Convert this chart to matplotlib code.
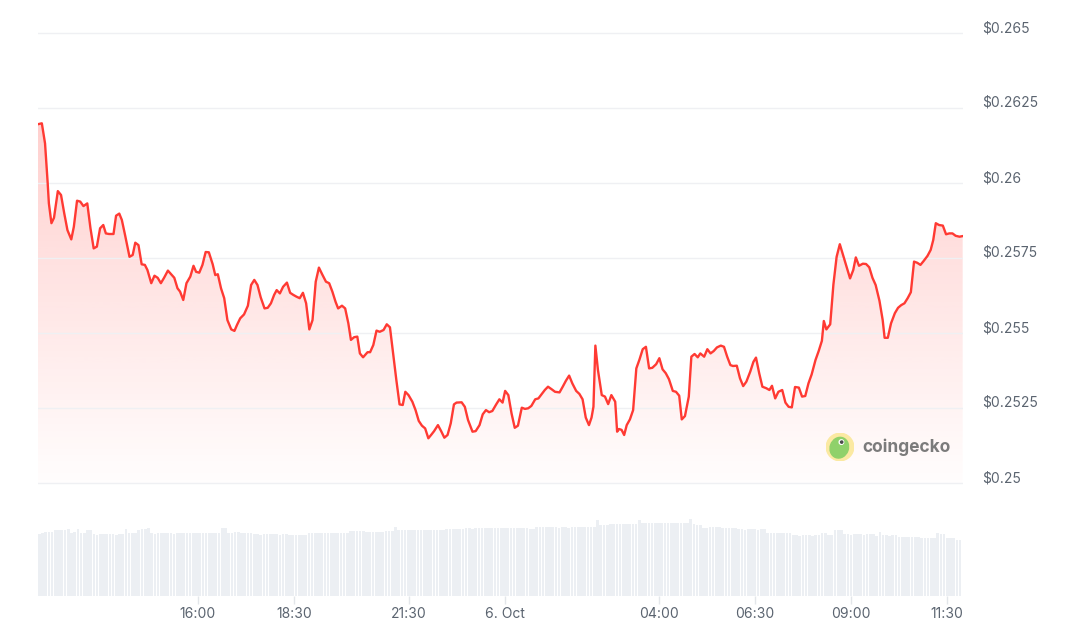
import numpy as np
import pandas as pd
import matplotlib
matplotlib.use("Agg")
import matplotlib.pyplot as plt
import matplotlib.dates as mdates
from matplotlib.patches import Circle, Ellipse
from matplotlib.transforms import ScaledTranslation

# price samples: minutes after 11:50 (5 Oct) and USD price
minutes = [0, 6, 11, 15, 17, 21, 25, 31, 36, 41, 46, 52, 56, 61, 66, 71, 77, 82, 87, 92,
           97, 102, 106, 111, 118, 122, 127, 131, 136, 143, 148, 152, 157, 162, 167, 171, 177, 182, 187, 192,
           197, 203, 208, 213, 218, 222, 227, 232, 238, 243, 247, 252, 257, 262, 267, 273, 277, 281, 286, 291,
           296, 302, 307, 311, 316, 322, 328, 333, 338, 343, 348, 354, 359, 364, 369, 373, 378, 383, 389, 394,
           399, 404, 409, 414, 419, 424, 429, 434, 439, 444, 450, 455, 460, 465, 469, 475, 480, 485, 489, 494,
           499, 503, 508, 515, 519, 524, 529, 534, 540, 545, 550, 555, 560, 565, 570, 574, 579, 585, 590, 595,
           600, 605, 610, 615, 619, 625, 630, 635, 640, 645, 650, 654, 662, 667, 672, 679, 684, 690, 695, 700,
           705, 710, 716, 721, 726, 730, 735, 740, 745, 750, 756, 761, 766, 771, 777, 782, 787, 792, 797, 803,
           808, 815, 820, 825, 830, 835, 841, 846, 851, 856, 861, 865, 868, 871, 875, 881, 886, 891, 896, 902,
           905, 908, 912, 916, 920, 925, 930, 935, 940, 945, 950, 955, 960, 966, 971, 976, 981, 986, 992, 997,
           1002, 1006, 1011, 1017, 1021, 1026, 1031, 1035, 1041, 1046, 1051, 1056, 1061, 1067, 1072, 1077, 1082, 1086, 1092, 1097,
           1102, 1107, 1113, 1118, 1122, 1127, 1132, 1138, 1143, 1147, 1152, 1157, 1163, 1168, 1173, 1178, 1183, 1189, 1194, 1199,
           1204, 1209, 1215, 1220, 1225, 1228, 1232, 1238, 1243, 1248, 1253, 1258, 1264, 1269, 1274, 1278, 1283, 1289, 1294, 1299,
           1304, 1309, 1315, 1320, 1323, 1328, 1333, 1339, 1344, 1349, 1354, 1359, 1364, 1369, 1374, 1379, 1384, 1390, 1395, 1399,
           1403, 1408, 1414, 1419, 1424, 1429, 1434, 1440, 1445]
prices = [0.26196, 0.26199, 0.26132, 0.26004, 0.25932, 0.25866, 0.25884, 0.25973, 0.25960, 0.25899,
          0.25843, 0.25812, 0.25854, 0.25941, 0.25938, 0.25923, 0.25932, 0.25849, 0.25782, 0.25788,
          0.25849, 0.25860, 0.25832, 0.25830, 0.25830, 0.25891, 0.25898, 0.25877, 0.25827, 0.25754,
          0.25760, 0.25801, 0.25793, 0.25729, 0.25727, 0.25710, 0.25666, 0.25691, 0.25684, 0.25666,
          0.25684, 0.25708, 0.25696, 0.25684, 0.25649, 0.25638, 0.25610, 0.25666, 0.25688, 0.25724,
          0.25704, 0.25701, 0.25727, 0.25770, 0.25769, 0.25729, 0.25693, 0.25696, 0.25649, 0.25616,
          0.25543, 0.25512, 0.25507, 0.25527, 0.25549, 0.25562, 0.25591, 0.25660, 0.25677, 0.25660,
          0.25619, 0.25582, 0.25584, 0.25599, 0.25627, 0.25643, 0.25632, 0.25654, 0.25668, 0.25634,
          0.25627, 0.25621, 0.25616, 0.25634, 0.25599, 0.25512, 0.25543, 0.25671, 0.25718, 0.25696,
          0.25671, 0.25666, 0.25638, 0.25604, 0.25582, 0.25591, 0.25582, 0.25532, 0.25477, 0.25486,
          0.25488, 0.25432, 0.25419, 0.25436, 0.25436, 0.25460, 0.25508, 0.25504, 0.25510, 0.25529,
          0.25519, 0.25432, 0.25343, 0.25262, 0.25260, 0.25304, 0.25293, 0.25271, 0.25243, 0.25207,
          0.25191, 0.25182, 0.25149, 0.25162, 0.25173, 0.25193, 0.25173, 0.25151, 0.25160, 0.25199,
          0.25262, 0.25268, 0.25269, 0.25254, 0.25210, 0.25171, 0.25173, 0.25193, 0.25229, 0.25243,
          0.25236, 0.25240, 0.25262, 0.25279, 0.25268, 0.25307, 0.25293, 0.25232, 0.25184, 0.25191,
          0.25251, 0.25247, 0.25249, 0.25257, 0.25279, 0.25282, 0.25296, 0.25310, 0.25321, 0.25312,
          0.25304, 0.25302, 0.25321, 0.25341, 0.25358, 0.25332, 0.25307, 0.25297, 0.25279, 0.25218,
          0.25193, 0.25218, 0.25254, 0.25458, 0.25377, 0.25293, 0.25288, 0.25263, 0.25293, 0.25271,
          0.25171, 0.25180, 0.25177, 0.25160, 0.25193, 0.25212, 0.25243, 0.25382, 0.25412, 0.25446,
          0.25454, 0.25382, 0.25384, 0.25396, 0.25416, 0.25379, 0.25366, 0.25346, 0.25307, 0.25304,
          0.25291, 0.25212, 0.25223, 0.25288, 0.25421, 0.25430, 0.25419, 0.25432, 0.25421, 0.25446,
          0.25432, 0.25440, 0.25452, 0.25458, 0.25454, 0.25421, 0.25393, 0.25390, 0.25391, 0.25349,
          0.25323, 0.25338, 0.25371, 0.25404, 0.25418, 0.25366, 0.25321, 0.25316, 0.25310, 0.25324,
          0.25282, 0.25304, 0.25310, 0.25268, 0.25254, 0.25252, 0.25320, 0.25318, 0.25288, 0.25290,
          0.25332, 0.25362, 0.25410, 0.25440, 0.25474, 0.25540, 0.25512, 0.25529, 0.25662, 0.25754,
          0.25796, 0.25760, 0.25716, 0.25682, 0.25710, 0.25752, 0.25724, 0.25731, 0.25730, 0.25719,
          0.25684, 0.25660, 0.25607, 0.25543, 0.25484, 0.25484, 0.25532, 0.25566, 0.25584, 0.25593,
          0.25599, 0.25616, 0.25636, 0.25738, 0.25734, 0.25727, 0.25740, 0.25757, 0.25777, 0.25810,
          0.25866, 0.25860, 0.25858, 0.25829, 0.25832, 0.25832, 0.25824, 0.25821, 0.25823]

# 5-minute volume bars (relative units)
volume = [62.5, 63.3, 64.0, 64.3, 64.5, 65.7, 66.0, 66.3, 66.3, 66.7, 62.7, 64.0, 66.7, 62.7, 63.3, 65.7, 66.3,
          61.7, 61.5, 61.7, 61.7, 61.6, 61.7, 61.7, 61.5, 61.7, 62.0, 66.7, 62.7, 63.3, 63.3, 65.7, 66.7, 66.7, 67.7,
          62.7, 62.5, 62.7, 62.7, 62.6, 62.7, 62.7, 62.5, 62.7, 63.3, 63.0, 63.3, 63.3, 63.1, 63.3, 63.3,
          62.7, 62.7, 63.3, 62.7, 62.7, 63.3, 67.7, 68.3,
          62.7, 62.7, 64.0, 64.0, 63.3, 63.3, 63.3, 63.3, 61.7, 61.7, 61.5, 61.7, 61.7, 61.6, 61.7, 61.7,
          61.5, 61.7, 61.7, 61.4, 61.2, 61.0, 61.0, 60.8, 61.2, 62.7, 62.7, 63.0,
          63.3, 63.3, 63.5, 63.3, 63.3, 63.5, 63.3, 63.3, 63.5, 63.5, 65.0, 65.0, 65.0, 64.7, 65.0,
          64.0, 64.0, 64.2, 64.0, 64.3, 64.5, 65.0, 64.7, 65.0, 69.0, 65.7, 65.7, 66.0, 65.7, 65.7,
          66.3, 66.3, 66.5, 66.3, 66.3, 66.5, 66.3, 66.3, 66.5, 66.3, 67.0, 67.0, 67.2, 67.0, 67.0, 67.2,
          67.7, 67.7, 67.5, 67.7, 67.7, 67.7, 68.3, 68.3, 68.0, 68.3, 68.3, 68.3, 68.0, 68.3, 68.3, 68.5, 68.3, 68.3,
          68.3, 68.3, 67.3, 67.3, 69.3, 69.3, 69.5, 69.3, 69.3, 69.5, 69.3, 68.3, 69.3, 69.3, 68.3, 69.3, 69.3,
          69.3, 69.3, 69.5, 69.3, 69.3, 69.3, 75.7, 71.0, 71.0, 71.0,
          71.7, 71.7, 71.9, 71.7, 71.7, 71.9, 71.7, 71.7, 71.7, 75.7,
          73.3, 73.3, 73.5, 73.3, 73.3, 73.5, 73.3, 73.3, 73.3, 73.5, 73.3, 73.3, 73.3, 73.3, 73.0,
          76.7, 71.7, 70.7, 70.7,
          68.3, 68.3, 69.3, 69.3, 69.3, 69.3, 67.7, 68.3, 67.7, 68.3, 67.7,
          66.7, 66.7, 66.5, 66.7, 66.7, 66.7, 66.5, 66.7, 66.7,
          63.3, 63.3, 62.7, 62.7, 63.3, 62.7, 62.7, 62.7,
          60.7, 60.7, 60.5, 60.7, 60.7, 60.7, 60.5, 60.7, 60.7, 63.3, 63.3, 60.7, 60.7, 65.7, 65.7, 65.7,
          61.7, 61.7, 61.5, 61.7, 61.7, 61.7, 61.5, 61.7, 61.7, 61.7,
          60.0, 64.0, 60.7, 60.7, 60.5, 60.7, 60.7, 59.3, 59.3, 59.5, 59.3, 59.3, 59.3, 59.3,
          58.3, 58.3, 58.5, 58.3, 58.3, 62.7, 61.7, 61.7, 58.3, 58.3, 58.3, 56.0, 56.0]

y_ticks = [0.25, 0.2525, 0.255, 0.2575, 0.26, 0.2625, 0.265]
y_labels = ["$0.25", "$0.2525", "$0.255", "$0.2575", "$0.26", "$0.2625", "$0.265"]
x_tick_times = ["2024-10-05 16:00", "2024-10-05 18:30", "2024-10-05 21:30", "2024-10-06 00:00",
                "2024-10-06 04:00", "2024-10-06 06:30", "2024-10-06 09:00", "2024-10-06 11:30"]
x_labels = ["16:00", "18:30", "21:30", "6. Oct", "04:00", "06:30", "09:00", "11:30"]

RED = "#ff3a33"
TXT = "#5b6470"
plt.rcParams["font.family"] = ["Inter", "DejaVu Sans"]

start = pd.Timestamp("2024-10-05 11:50")
t = mdates.date2num((start + pd.to_timedelta(minutes, unit="min")).to_pydatetime())
vt = mdates.date2num((start + pd.to_timedelta(np.arange(len(volume)) * 5, unit="min")).to_pydatetime())
x0 = mdates.date2num(start.to_pydatetime())
x1 = mdates.date2num((start + pd.Timedelta(minutes=1445.5)).to_pydatetime())

fig = plt.figure(figsize=(10.78, 6.4), dpi=100)
rect = [38 / 1078, 44 / 640, 925 / 1078, 576 / 640]

# volume bars underneath
axv = fig.add_axes(rect)
axv.bar(vt, volume, width=4.1 / 1440, align="edge", color="#eceff3", linewidth=0)
axv.set_xlim(x0, x1 - 4 / 1440)
axv.set_ylim(0, 576)
axv.axis("off")

ax = fig.add_axes(rect)
ax.set_facecolor("none")
ax.set_xlim(x0, x1)
ax.set_ylim(0.25 - 113 / 30000, 0.265 + 13 / 30000)

# gradient fill under the line
poly = ax.fill_between(t, prices, 0.25, color="none", linewidth=0)
alpha = np.linspace(0.01, 0.24, 256).reshape(-1, 1)
img = np.zeros((256, 1, 4))
img[..., 0], img[..., 1], img[..., 2] = 1.0, 58 / 255, 51 / 255
img[..., 3] = alpha[:, 0:1]
im = ax.imshow(img, extent=[x0, x1, 0.25, max(prices)], origin="lower", aspect="auto", zorder=1)
im.set_clip_path(poly.get_paths()[0], transform=ax.transData)

ax.plot(t, prices, color=RED, linewidth=1.7, zorder=3, solid_joinstyle="round")

ax.set_yticks(y_ticks)
ax.set_yticklabels(y_labels)
ax.yaxis.tick_right()
ax.grid(axis="y", color="#eff0f3", linewidth=1)
ax.tick_params(axis="y", length=0, pad=14, labelsize=10, labelcolor=TXT)
lift = ScaledTranslation(0, 0.065, fig.dpi_scale_trans)
for lbl in ax.get_yticklabels():
    lbl.set_transform(lbl.get_transform() + lift)

ax.set_xticks(mdates.date2num(pd.to_datetime(x_tick_times).to_pydatetime()))
ax.set_xticklabels(x_labels)
ax.tick_params(axis="x", length=6, width=1, color="#e3e6ea", pad=2, labelsize=10, labelcolor=TXT)
for s in ax.spines.values():
    s.set_visible(False)

# coingecko watermark
axl = fig.add_axes([826 / 1078, 1 - 461 / 640, 28 / 1078, 28 / 640])
axl.set_xlim(-1, 1)
axl.set_ylim(-1, 1)
axl.set_aspect("equal")
axl.axis("off")
axl.add_patch(Circle((0, 0), 0.98, color="#fbe9a2"))
axl.add_patch(Ellipse((-0.05, -0.05), 1.3, 1.5, angle=-20, color="#8fd16a"))
axl.add_patch(Circle((0.1, 0.35), 0.16, color="white"))
axl.add_patch(Circle((0.12, 0.35), 0.08, color="#4a4a4a"))
fig.text(862 / 1078, 1 - 447 / 640, "coingecko", fontsize=12.5, fontweight="bold",
         color="#7b7b7b", va="center", ha="left")

fig.savefig("out.png", dpi=100)
